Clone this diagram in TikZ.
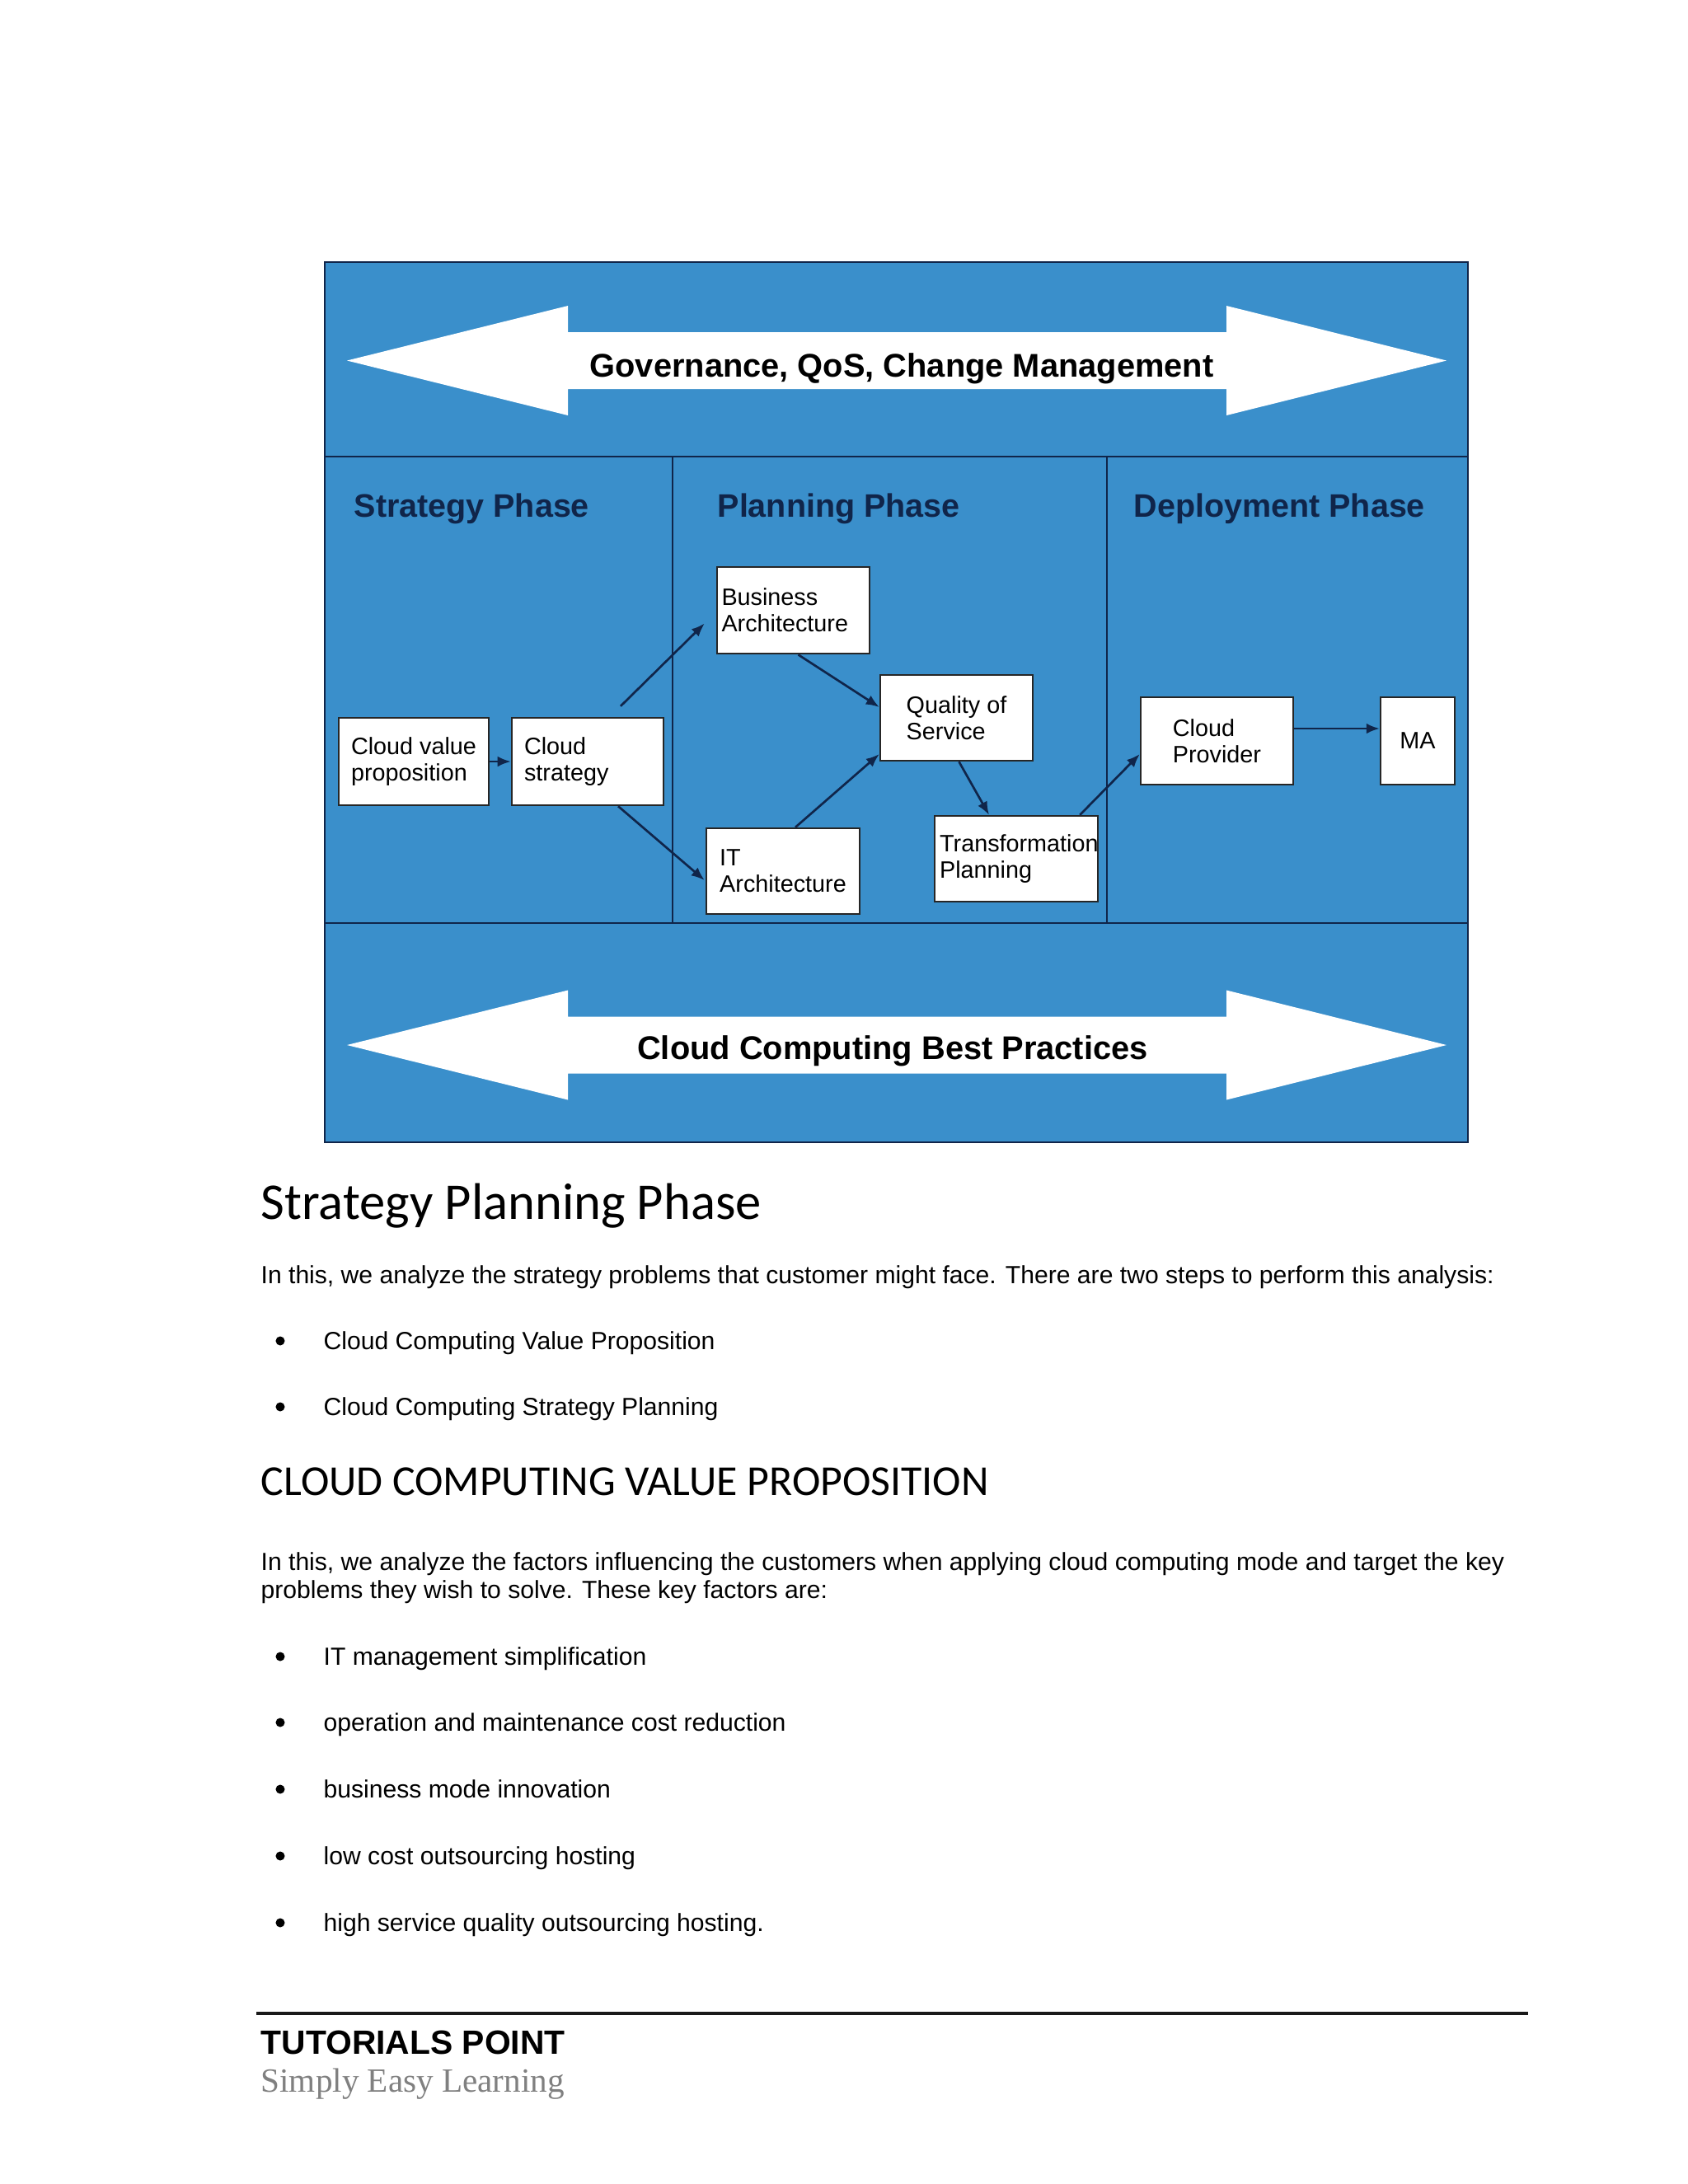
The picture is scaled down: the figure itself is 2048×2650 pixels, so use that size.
\documentclass[tikz,border=0pt]{standalone}
\usepackage{fontspec}
\setmainfont{Liberation Sans}
\newfontfamily\headfont{Carlito}
\newfontfamily\footserif{Liberation Serif}
\usetikzlibrary{arrows.meta,calc}
\definecolor{bandblue}{HTML}{3A8FCB}
\definecolor{navy}{HTML}{10254A}
\colorlet{rulegray}{black!90}
\colorlet{footgray}{black!50}
\tikzset{
    panel/.style={fill=bandblue,draw=navy,line width=0.8pt},
    divider/.style={navy,line width=0.8pt},
    stepbox/.style={draw=black!85,fill=white,line width=0.7pt,align=left,inner sep=0pt,
        minimum width=55.3pt,minimum height=31.5pt,font=\fontsize{8.6}{9.6}\selectfont},
    conn/.style={navy,line width=0.8pt,-{Latex[length=4.8pt,width=3.8pt]}},
    phasetitle/.style={navy,anchor=base west,inner sep=0pt,font=\bfseries\fontsize{11.8}{13}\selectfont},
    bandtext/.style={anchor=base,inner sep=0pt,font=\bfseries\fontsize{11.9}{13}\selectfont},
    bodytext/.style={anchor=base west,inner sep=0pt,font=\fontsize{9}{10.1}\selectfont},
    bulletdot/.style={circle,fill=black,inner sep=0pt,minimum size=3.3pt},
    headtext/.style={anchor=base west,inner sep=0pt,font=\headfont}
}

\begin{document}
\begin{tikzpicture}[x=0.298828pt,y=-0.298828pt]
        \fill[white] (0,0) rectangle (2048,2650);
        \useasboundingbox (0,0) rectangle (2048,2650);
        \draw[panel] (394,318) rectangle (1781,1386);
        \draw[divider] (394,554) -- (1781,554);
        \draw[divider] (394,1120) -- (1781,1120);
        \draw[divider] (816,554) -- (816,1120);
        \draw[divider] (1343,554) -- (1343,1120);
        \foreach \yc/\yb/\xt/\nm/\txt in {437.5/457/1094/gov/{Governance, QoS, Change Management},
                                           1268/1285/1083/best/{Cloud Computing Best Practices}} {
            \fill[white] (421,\yc) -- (689,\yc-66.5) -- (689,\yc-34.5) -- (1488,\yc-34.5)
                -- (1488,\yc-66.5) -- (1755,\yc) -- (1488,\yc+66.5) -- (1488,\yc+34.5)
                -- (689,\yc+34.5) -- (689,\yc+66.5) -- cycle;
            \node [bandtext] (\nm) at (\xt,\yb) {\txt};
        }
        \node [phasetitle] (strat) at (429,627) {Strategy Phase};
        \node [phasetitle] (plan) at (870,627) {Planning Phase};
        \node [phasetitle] (deploy) at (1375,627) {Deployment Phase};
        \node [stepbox,minimum width=54.4pt,minimum height=31.7pt] (cvp) at (502,924) {Cloud value\\proposition};
        \node [stepbox,minimum width=55pt,minimum height=31.7pt,text width=46pt,inner xsep=4.5pt] (cs) at (713,924) {Cloud\\strategy};
        \node [stepbox,text width=52pt,inner xsep=1.6pt] (ba) at (962.5,740.5) {Business\\Architecture};
        \node [stepbox,minimum height=31.1pt] (qos) at (1160.5,871) {Quality of\\Service};
        \node [stepbox,minimum width=55.6pt,minimum height=31.1pt] (it) at (950,1057) {IT\\Architecture};
        \node [stepbox,minimum width=59.2pt,minimum height=31.1pt,text width=55.5pt,inner xsep=1.8pt] (tp) at (1233,1042) {Transformation\\Planning};
        \node [stepbox,minimum height=31.7pt] (cp) at (1476.5,899) {Cloud\\Provider};
        \node [stepbox,minimum width=26.9pt,minimum height=31.7pt] (ma) at (1720,899) {MA};
        \draw[conn] (cvp) -- (cs);
        \draw[conn] ($(cs.north)+(40,-13)$) -- ($(ba.west)+(-14,16)$);
        \draw[conn] ($(cs.south)+(37,0)$) -- ($(it.west)+(-1,11)$);
        \draw[conn] ($(ba.south)+(6,0)$) -- ($(qos.west)+(0,-13)$);
        \draw[conn] ($(it.north)+(15,0)$) -- ($(qos.west)+(0,44)$);
        \draw[conn] ($(qos.south)+(3,0)$) -- ($(tp.north)+(-33,0)$);
        \draw[conn] ($(tp.north east)+(-23,0)$) -- ($(cp.west)+(0,16)$);
        \draw[conn] ($(cp.east)+(0,-15)$) -- ($(ma.west)+(0,-15)$);
        \node [headtext,font=\headfont\fontsize{18.7}{22}\selectfont] (head1) at (316,1479) {Strategy Planning Phase};
        \node [bodytext] (para1) at (316,1557) {In this, we analyze the strategy problems that customer might face. There are two steps to perform this analysis:};
        \node [headtext,font=\headfont\fontsize{15.5}{18}\selectfont] (head2) at (316,1814) {CLOUD COMPUTING VALUE PROPOSITION};
        \node [bodytext] (para2a) at (316,1905) {In this, we analyze the factors influencing the customers when applying cloud computing mode and target the key};
        \node [bodytext] (para2b) at (316,1939) {problems they wish to solve. These key factors are:};
        \foreach \n/\yb/\txt in {1/1637/{Cloud Computing Value Proposition},
                                 2/1717/{Cloud Computing Strategy Planning},
                                 3/2020/{IT management simplification},
                                 4/2100/{operation and maintenance cost reduction},
                                 5/2181/{business mode innovation},
                                 6/2262/{low cost outsourcing hosting},
                                 7/2343/{high service quality outsourcing hosting.}} {
            \node [bulletdot] (dot\n) at (340,\yb-10) {};
            \node [bodytext] (item\n) at (392,\yb) {\txt};
        }
        \draw[rulegray,line width=1pt] (311,2443) -- (1854,2443);
        \node [bodytext,font=\bfseries\fontsize{12.2}{14}\selectfont] (brand) at (316,2492) {TUTORIALS POINT};
        \node [bodytext,footgray,font=\footserif\fontsize{12.3}{14}\selectfont] (motto) at (316,2538) {Simply Easy Learning};
    \end{tikzpicture}
\end{document}
